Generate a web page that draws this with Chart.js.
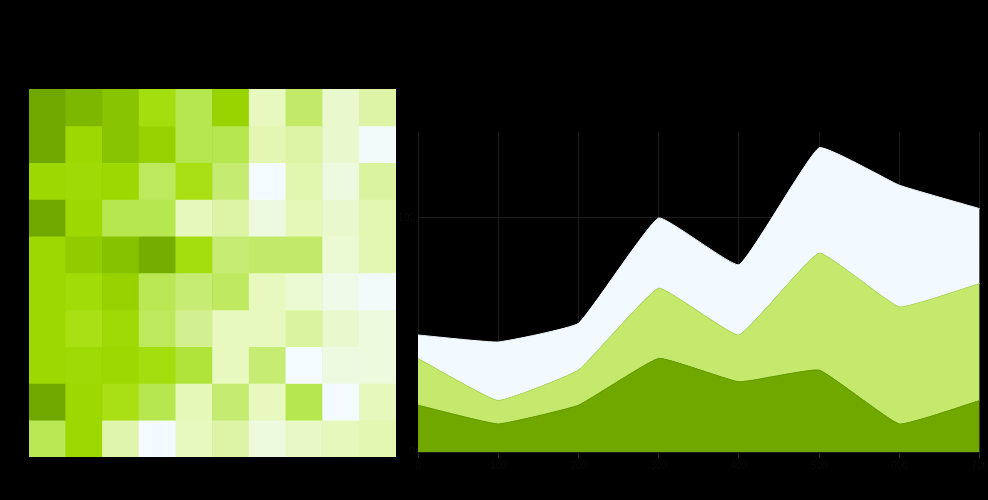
<!DOCTYPE html>
<html>
<head>
<meta charset="utf-8">
<script src="https://cdn.jsdelivr.net/npm/chart.js@4/dist/chart.umd.min.js"></script>
<style>
  html, body { margin: 0; padding: 0; background: #000; width: 988px; height: 500px; overflow: hidden; }
  #heatWrap { position: absolute; left: 29px; top: 89px; width: 367px; height: 368px; }
  #areaWrap { position: absolute; left: 400px; top: 0px; width: 590px; height: 500px; }
</style>
</head>
<body>
<div id="heatWrap"><canvas id="heat" width="367" height="368"></canvas></div>
<div id="areaWrap"><canvas id="area" width="590" height="500"></canvas></div>
<script>
// ---------- heatmap data (rows top to bottom, 10 columns) ----------
const heatCols = ['0','1','2','3','4','5','6','7','8','9'];
const heatRows = ['0','1','2','3','4','5','6','7','8','9'];
const heatValues = [
  [0, 8, 15, 32, 46, 23, 80, 53, 84, 70],
  [0, 25, 15, 22, 46, 46, 75, 70, 84, 98],
  [25, 28, 25, 50, 35, 55, 100, 73, 90, 68],
  [0, 25, 46, 46, 78, 70, 90, 77, 84, 75],
  [25, 19, 14, 3, 32, 56, 53, 53, 86, 75],
  [25, 29, 22, 48, 56, 51, 80, 86, 93, 98],
  [25, 35, 28, 50, 64, 80, 80, 68, 84, 89],
  [25, 28, 25, 32, 42, 80, 56, 100, 90, 89],
  [0, 25, 35, 46, 77, 55, 80, 46, 100, 78],
  [48, 25, 72, 100, 80, 70, 89, 82, 78, 75]
];

// ---------- stacked area data ----------
const areaLabels = ['0', '100', '200', '300', '400', '500', '600', '700'];
const seriesA = [20, 12, 20, 40, 30, 35, 12, 22];
const seriesB = [20, 10, 15, 30, 20, 50, 50, 50];
const seriesC = [10, 25, 20, 30, 30, 45, 52, 32];
const yTicks = [0, 100];

// colour ramp for heatmap
const rampStops = [
  [0, [0x71, 0xa8, 0x00]],
  [15, [0x88, 0xc4, 0x00]],
  [25, [0x9d, 0xd8, 0x00]],
  [35, [0xa8, 0xe0, 0x14]],
  [45, [0xb5, 0xe6, 0x4a]],
  [55, [0xc5, 0xeb, 0x70]],
  [70, [0xdd, 0xf4, 0xa6]],
  [80, [0xe8, 0xf9, 0xc0]],
  [90, [0xee, 0xfa, 0xe0]],
  [100, [0xf3, 0xfb, 0xff]]
];
function rampColor(v) {
  for (let i = 1; i < rampStops.length; i++) {
    const [v1, c1] = rampStops[i];
    const [v0, c0] = rampStops[i - 1];
    if (v <= v1) {
      const t = (v - v0) / (v1 - v0);
      const c = c0.map((a, k) => Math.round(a + (c1[k] - a) * t));
      return `rgb(${c[0]},${c[1]},${c[2]})`;
    }
  }
  const c = rampStops[rampStops.length - 1][1];
  return `rgb(${c[0]},${c[1]},${c[2]})`;
}

const heatDatasets = heatRows.map((r, ri) => ({
  label: 'row ' + r,
  data: heatCols.map(() => 1),
  backgroundColor: heatValues[ri].map(rampColor),
  borderWidth: 0,
  barPercentage: 1,
  categoryPercentage: 1
}));

new Chart(document.getElementById('heat'), {
  type: 'bar',
  data: { labels: heatCols, datasets: heatDatasets },
  options: {
    responsive: false,
    animation: false,
    layout: { padding: 0 },
    plugins: { legend: { display: false }, tooltip: { enabled: false } },
    scales: {
      x: { stacked: true, display: false },
      y: { stacked: true, display: false, reverse: true, min: 0, max: 10 }
    }
  }
});

new Chart(document.getElementById('area'), {
  type: 'line',
  data: {
    labels: areaLabels,
    datasets: [
      { label: 'A', data: seriesA, fill: 'origin', backgroundColor: '#70a800', borderColor: '#6aa000', borderWidth: 1, pointRadius: 0, tension: 0.1 },
      { label: 'B', data: seriesB, fill: '-1', backgroundColor: '#c5e96c', borderColor: '#b8dc60', borderWidth: 1, pointRadius: 0, tension: 0.1 },
      { label: 'C', data: seriesC, fill: '-1', backgroundColor: '#f3faff', borderColor: '#eef6fb', borderWidth: 1, pointRadius: 0, tension: 0.1 }
    ]
  },
  options: {
    responsive: false,
    animation: false,
    layout: { padding: { top: 132, right: 0, left: 0, bottom: 0 } },
    plugins: { legend: { display: false }, tooltip: { enabled: false } },
    scales: {
      x: {
        grid: { color: '#1c1c1c', lineWidth: 1, tickLength: 6, tickColor: '#2a2a2a' },
        border: { display: false },
        ticks: { color: '#0a0a0a', font: { size: 10 }, maxRotation: 0, padding: 2 },
        afterFit: (s) => { s.height = 48; }
      },
      y: {
        stacked: true,
        min: 0,
        max: 136.75,
        grid: { color: '#1c1c1c', lineWidth: 1, drawTicks: false },
        border: { display: false },
        ticks: { color: '#0a0a0a', font: { size: 10 } },
        afterBuildTicks: (axis) => { axis.ticks = yTicks.map(v => ({ value: v })); },
        afterFit: (s) => { s.width = 18; }
      }
    }
  }
});
</script>
</body>
</html>
